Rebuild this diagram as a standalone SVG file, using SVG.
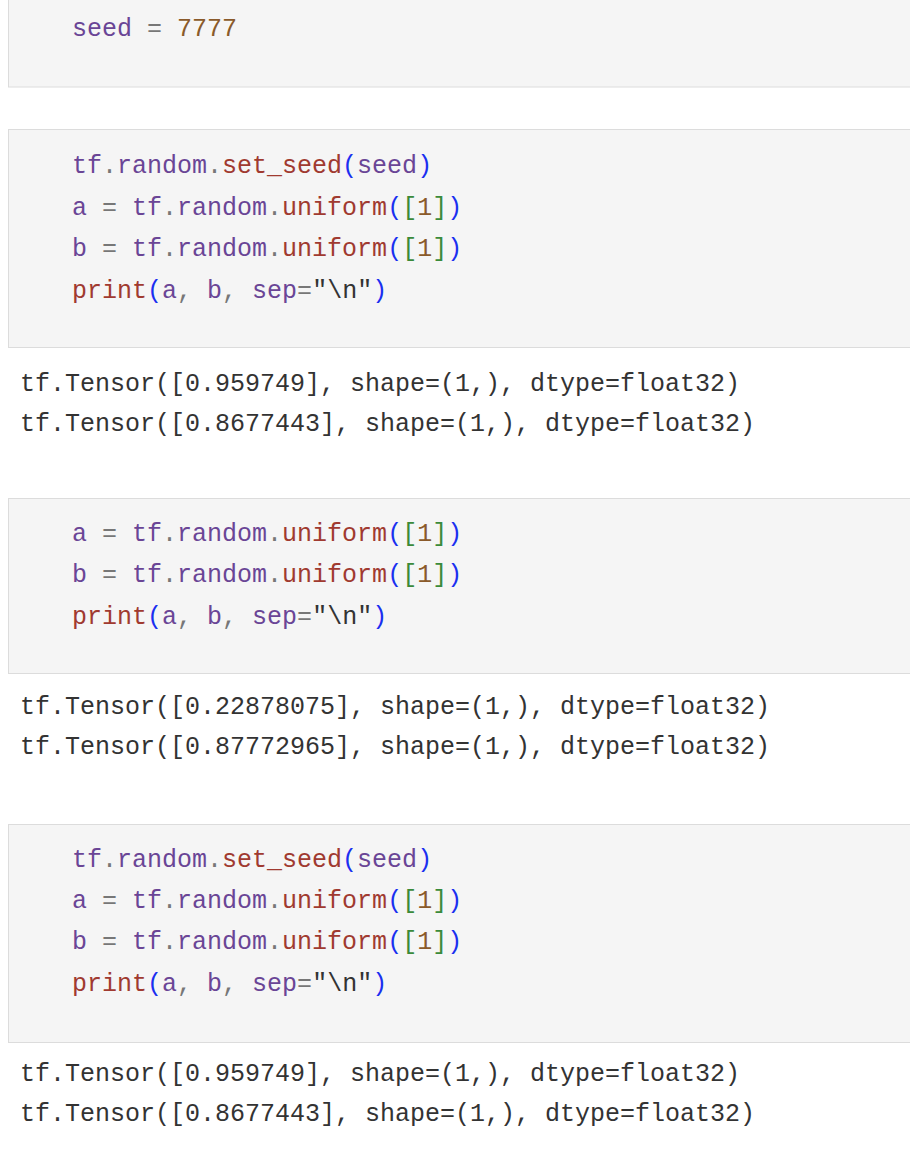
<svg xmlns="http://www.w3.org/2000/svg" width="910" height="1158" viewBox="0 0 910 1158">
<style>
.box{fill:#f5f5f5;stroke:#dcdcdc;stroke-width:1}
text{font-family:"Liberation Mono","DejaVu Sans Mono",monospace;font-size:25px;fill:#333}
.v{fill:#6a4596}.f{fill:#a03a30}.p{fill:#1a2ff0}.g{fill:#3a8a3a}.n{fill:#8a5a2a}.o{fill:#777}
</style>
<rect width="910" height="1158" fill="#fff"/>
<g id="cell1"><rect class="box" x="8.5" y="-2" width="910" height="89"/>
<text x="72" y="36"><tspan class="v">seed</tspan><tspan class="o"> = </tspan><tspan class="n">7777</tspan></text></g>
<g id="cell2"><rect class="box" x="8.5" y="129.5" width="910" height="218"/>
<text x="72" y="173"><tspan class="v">tf</tspan><tspan class="o">.</tspan><tspan class="v">random</tspan><tspan class="o">.</tspan><tspan class="f">set_seed</tspan><tspan class="p">(</tspan><tspan class="v">seed</tspan><tspan class="p">)</tspan></text>
<text x="72" y="215"><tspan class="v">a</tspan><tspan class="o"> = </tspan><tspan class="v">tf</tspan><tspan class="o">.</tspan><tspan class="v">random</tspan><tspan class="o">.</tspan><tspan class="f">uniform</tspan><tspan class="p">(</tspan><tspan class="g">[</tspan><tspan class="n">1</tspan><tspan class="g">]</tspan><tspan class="p">)</tspan></text>
<text x="72" y="256"><tspan class="v">b</tspan><tspan class="o"> = </tspan><tspan class="v">tf</tspan><tspan class="o">.</tspan><tspan class="v">random</tspan><tspan class="o">.</tspan><tspan class="f">uniform</tspan><tspan class="p">(</tspan><tspan class="g">[</tspan><tspan class="n">1</tspan><tspan class="g">]</tspan><tspan class="p">)</tspan></text>
<text x="72" y="298"><tspan class="f">print</tspan><tspan class="p">(</tspan><tspan class="v">a</tspan><tspan class="o">, </tspan><tspan class="v">b</tspan><tspan class="o">, </tspan><tspan class="v">sep</tspan><tspan class="o">=</tspan><tspan>"\n"</tspan><tspan class="p">)</tspan></text></g>
<g id="out1"><text x="20" y="391">tf.Tensor([0.959749], shape=(1,), dtype=float32)</text>
<text x="20" y="431">tf.Tensor([0.8677443], shape=(1,), dtype=float32)</text></g>
<g id="cell3"><rect class="box" x="8.5" y="498.5" width="910" height="175"/>
<text x="72" y="541"><tspan class="v">a</tspan><tspan class="o"> = </tspan><tspan class="v">tf</tspan><tspan class="o">.</tspan><tspan class="v">random</tspan><tspan class="o">.</tspan><tspan class="f">uniform</tspan><tspan class="p">(</tspan><tspan class="g">[</tspan><tspan class="n">1</tspan><tspan class="g">]</tspan><tspan class="p">)</tspan></text>
<text x="72" y="582"><tspan class="v">b</tspan><tspan class="o"> = </tspan><tspan class="v">tf</tspan><tspan class="o">.</tspan><tspan class="v">random</tspan><tspan class="o">.</tspan><tspan class="f">uniform</tspan><tspan class="p">(</tspan><tspan class="g">[</tspan><tspan class="n">1</tspan><tspan class="g">]</tspan><tspan class="p">)</tspan></text>
<text x="72" y="624"><tspan class="f">print</tspan><tspan class="p">(</tspan><tspan class="v">a</tspan><tspan class="o">, </tspan><tspan class="v">b</tspan><tspan class="o">, </tspan><tspan class="v">sep</tspan><tspan class="o">=</tspan><tspan>"\n"</tspan><tspan class="p">)</tspan></text></g>
<g id="out2"><text x="20" y="714">tf.Tensor([0.22878075], shape=(1,), dtype=float32)</text>
<text x="20" y="754">tf.Tensor([0.87772965], shape=(1,), dtype=float32)</text></g>
<g id="cell4"><rect class="box" x="8.5" y="824.5" width="910" height="218"/>
<text x="72" y="867"><tspan class="v">tf</tspan><tspan class="o">.</tspan><tspan class="v">random</tspan><tspan class="o">.</tspan><tspan class="f">set_seed</tspan><tspan class="p">(</tspan><tspan class="v">seed</tspan><tspan class="p">)</tspan></text>
<text x="72" y="908"><tspan class="v">a</tspan><tspan class="o"> = </tspan><tspan class="v">tf</tspan><tspan class="o">.</tspan><tspan class="v">random</tspan><tspan class="o">.</tspan><tspan class="f">uniform</tspan><tspan class="p">(</tspan><tspan class="g">[</tspan><tspan class="n">1</tspan><tspan class="g">]</tspan><tspan class="p">)</tspan></text>
<text x="72" y="949"><tspan class="v">b</tspan><tspan class="o"> = </tspan><tspan class="v">tf</tspan><tspan class="o">.</tspan><tspan class="v">random</tspan><tspan class="o">.</tspan><tspan class="f">uniform</tspan><tspan class="p">(</tspan><tspan class="g">[</tspan><tspan class="n">1</tspan><tspan class="g">]</tspan><tspan class="p">)</tspan></text>
<text x="72" y="991"><tspan class="f">print</tspan><tspan class="p">(</tspan><tspan class="v">a</tspan><tspan class="o">, </tspan><tspan class="v">b</tspan><tspan class="o">, </tspan><tspan class="v">sep</tspan><tspan class="o">=</tspan><tspan>"\n"</tspan><tspan class="p">)</tspan></text></g>
<g id="out3"><text x="20" y="1081">tf.Tensor([0.959749], shape=(1,), dtype=float32)</text>
<text x="20" y="1121">tf.Tensor([0.8677443], shape=(1,), dtype=float32)</text></g>
<g id="connectors"/>
</svg>
